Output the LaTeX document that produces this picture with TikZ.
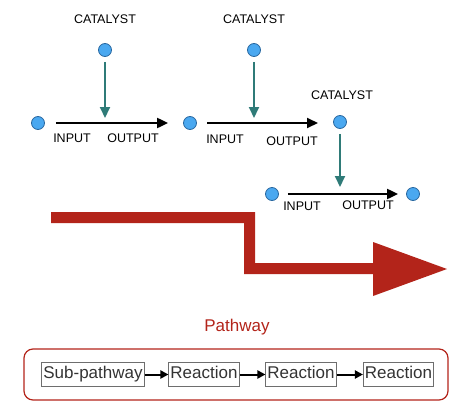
\documentclass[tikz,border=0pt]{standalone}
\usepackage{fontspec}
\setmainfont{Liberation Sans}
\usetikzlibrary{arrows.meta,positioning}
\definecolor{dotblue}{HTML}{4AA8F0}
\definecolor{dotedge}{HTML}{2A68A0}
\definecolor{catteal}{HTML}{2F7B78}
\definecolor{pathred}{HTML}{B3241A}
\definecolor{boxgray}{HTML}{6E6E6E}
\tikzset{
  dot/.style={circle,draw=dotedge,fill=dotblue,line width=0.8pt,minimum size=13pt,inner sep=0pt},
  lbl/.style={font=\fontsize{12.5}{14}\selectfont,inner sep=0pt},
  flow/.style={line width=2pt,-{Triangle[length=11pt,width=10pt]}},
  catflow/.style={catteal,line width=2pt,-{Triangle[length=11pt,width=10pt]}},
  stepbox/.style={draw=boxgray,line width=1pt,text=black!80,font=\fontsize{17}{19}\selectfont,
    inner xsep=1.5pt,inner ysep=4pt,text height=12pt,text depth=3.5pt},
  link/.style={line width=2pt,-{Triangle[length=8pt,width=8pt]}}
}
\begin{document}
\begin{tikzpicture}[x=1pt,y=-1pt]
\useasboundingbox (0,0) rectangle (474,402);
% reaction dots
\node[dot] (in1) at (38,123) {};
\node[dot] (in2) at (190,123) {};
\node[dot] (in3) at (272,194) {};
\node[dot] (out3) at (413,194) {};
% catalysts
\node[dot] (cat1) at (105,50) {};
\node[dot] (cat2) at (254,50) {};
\node[dot] (cat3) at (340,122) {};
\node[lbl] (catl1) at (105,19) {CATALYST};
\node[lbl] (catl2) at (254,19) {CATALYST};
\node[lbl] (catl3) at (342,95) {CATALYST};
% reaction arrows
\draw[flow,shorten <=11pt,shorten >=15pt] (in1) -- (in2);
\draw[flow,shorten <=17pt,shorten >=22pt] (in2.center) -- (cat3.center |- in2.center);
\draw[flow,shorten <=9pt,shorten >=8pt] (in3) -- (out3);
% catalyst arrows
\coordinate (hit1) at (105,118);
\coordinate (hit2) at (254,118);
\coordinate (hit3) at (340,187);
\draw[catflow,shorten <=5pt] (cat1) -- (hit1);
\draw[catflow,shorten <=5pt] (cat2) -- (hit2);
\draw[catflow,shorten <=5pt] (cat3) -- (hit3);
% input / output labels
\node[lbl] (il1) at (72,138) {INPUT};
\node[lbl] (ol1) at (133,138) {OUTPUT};
\node[lbl] (il2) at (225,139) {INPUT};
\node[lbl] (ol2) at (292,141) {OUTPUT};
\node[lbl] (il3) at (302,206) {INPUT};
\node[lbl] (ol3) at (368,205) {OUTPUT};
% big red arrow
\fill[pathred] (51,212) -- (255,212) -- (255,263) -- (373,263) -- (373,242) -- (447,269)
  -- (373,296) -- (373,274) -- (244,274) -- (244,223) -- (51,223) -- cycle;
% pathway
\node[text=pathred,font=\fontsize{17}{19}\selectfont] (ptitle) at (237,327) {Pathway};
\draw[pathred,line width=1.2pt,rounded corners=9pt] (24,349) rectangle (448,400);
\node[stepbox] (sub) at (93,374.5) {Sub-pathway};
\node[stepbox] (r1) at (204,374.5) {Reaction};
\node[stepbox] (r2) at (301,374.5) {Reaction};
\node[stepbox] (r3) at (398.5,374.5) {Reaction};
\draw[link] (sub) -- (r1);
\draw[link] (r1) -- (r2);
\draw[link] (r2) -- (r3);
\end{tikzpicture}
\end{document}
